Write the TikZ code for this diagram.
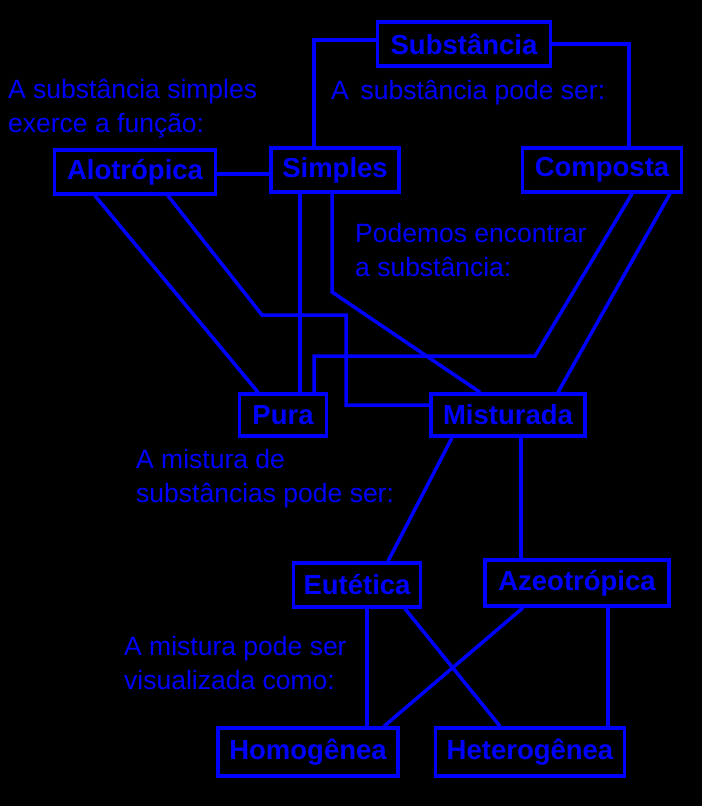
\documentclass[tikz,border=0pt]{standalone}
\usepackage{fontspec}
\setmainfont{Liberation Sans}
\begin{document}
\begin{tikzpicture}[x=1pt,y=-1pt,
  box/.style={draw=blue,line width=3.5pt,text=blue,font=\bfseries\fontsize{27.5}{30}\selectfont,inner sep=0pt,minimum height=44pt},
  lbl/.style={text=blue,font=\fontsize{26.5}{34}\selectfont,anchor=west,inner sep=0pt,align=left},
  cn/.style={blue,line width=3.5pt}]
\fill[black] (0,0) rectangle (702,806);
\useasboundingbox (0,0) rectangle (702,806);
\node[box,minimum width=173pt] (sub) at (464,44) {Substância};
\node[box,minimum width=128pt] (sim) at (335,170) {Simples};
\node[box,minimum width=159pt] (com) at (602,170) {Composta};
\node[box,minimum width=161pt] (alo) at (135,172) {Alotrópica};
\node[box,minimum width=87pt,minimum height=42pt] (pur) at (283,415) {Pura};
\node[box,minimum width=154pt,minimum height=42pt] (mis) at (508,415) {Misturada};
\node[box,minimum width=127pt] (eut) at (357,585) {Eutética};
\node[box,minimum width=184pt,minimum height=46pt] (aze) at (577,583) {Azeotrópica};
\node[box,minimum width=180pt,minimum height=48pt] (hom) at (308,752) {Homogênea};
\node[box,minimum width=189pt,minimum height=48pt] (het) at (530,752) {Heterogênea};
\node[lbl] (l1) at (8,109) {A substância simples\\exerce a função:};
\node[lbl] (l2) at (331,93) {A\, substância pode ser:};
\node[lbl] (l3) at (355,250) {Podemos encontrar\\a substância:};
\node[lbl] (l4) at (136,479) {A mistura de\\substâncias pode ser:};
\node[lbl] (l5) at (124,663) {A mistura pode ser\\visualizada como:};
\draw[cn] ([yshift=4pt]sub.west) -| ([xshift=-21pt]sim.north);
\draw[cn] (sub.east) -| ([xshift=27pt]com.north);
\draw[cn] ([yshift=-2pt]alo.east) -- ([yshift=-4pt]sim.west);
\draw[cn] ([xshift=-35pt]sim.south) -- ([xshift=17pt]pur.north);
\draw[cn] ([xshift=-3pt]sim.south) -- (332,292) -- ([xshift=-28pt]mis.north);
\draw[cn] ([xshift=-40pt]alo.south) -- ([xshift=-25pt]pur.north);
\draw[cn] ([xshift=33pt]alo.south) -- (262,315) -- (346,315) |- ([yshift=10pt]mis.west);
\draw[cn] ([xshift=30pt]com.south) -- (535,356) -- (314,356) -- ([xshift=31pt]pur.north);
\draw[cn] ([xshift=68pt]com.south) -- ([xshift=50pt]mis.north);
\draw[cn] ([xshift=-56pt]mis.south) -- ([xshift=31pt]eut.north);
\draw[cn] ([xshift=13pt]mis.south) -- ([xshift=-56pt]aze.north);
\draw[cn] ([xshift=10pt]eut.south) -- ([xshift=59pt]hom.north);
\draw[cn] ([xshift=48pt]eut.south) -- ([xshift=-30pt]het.north);
\draw[cn] ([xshift=-54pt]aze.south) -- ([xshift=76pt]hom.north);
\draw[cn] ([xshift=31pt]aze.south) -- ([xshift=78pt]het.north);
\end{tikzpicture}
\end{document}
